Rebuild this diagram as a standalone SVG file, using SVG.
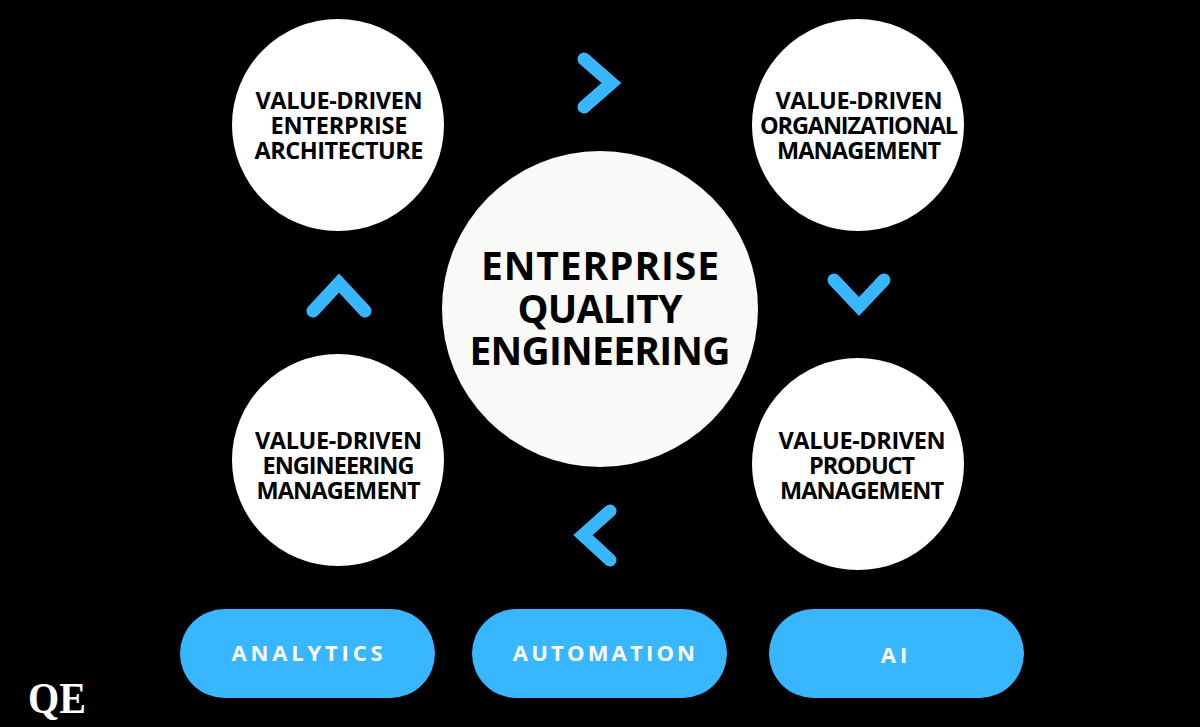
<svg xmlns="http://www.w3.org/2000/svg" width="1200" height="727" viewBox="0 0 1200 727">
<style>
.c{fill:#fff}
.m{fill:#f9f9f7}
.t{font-family:"Open Sans","Noto Sans",sans-serif;font-weight:700;fill:#000;text-anchor:middle;font-size:23.5px}
.b{font-size:39px}
.p{fill:#38b6ff}
.l{font-family:"Open Sans","Noto Sans",sans-serif;font-weight:700;fill:#fff;text-anchor:middle;font-size:22px}
.a{fill:none;stroke:#38b6ff;stroke-width:13;stroke-linecap:round;stroke-linejoin:miter}
</style>
<rect width="1200" height="727" fill="#000"/>
<g id="connectors">
<path class="a" d="M584 59L611.500 83L584 107"/>
<path class="a" d="M834 280L859 306.500L884 280"/>
<path class="a" d="M610 511L583 535L610 560"/>
<path class="a" d="M313 311L339 283L365 311"/>
</g>
<g id="node-architecture"><circle class="c" cx="338" cy="125" r="106"/>
<text class="t"><tspan x="339" y="109" textLength="167">VALUE-DRIVEN</tspan><tspan x="339" y="134" textLength="137">ENTERPRISE</tspan><tspan x="339" y="159" textLength="169">ARCHITECTURE</tspan></text></g>
<g id="node-organizational"><circle class="c" cx="858" cy="125" r="106"/>
<text class="t"><tspan x="859" y="109" textLength="167">VALUE-DRIVEN</tspan><tspan x="859" y="134" textLength="198">ORGANIZATIONAL</tspan><tspan x="859" y="159" textLength="164">MANAGEMENT</tspan></text></g>
<g id="node-center"><circle class="m" cx="600" cy="309" r="158"/>
<text class="t b"><tspan x="600" y="280" textLength="238">ENTERPRISE</tspan><tspan x="600" y="323" textLength="165">QUALITY</tspan><tspan x="600" y="365" textLength="261">ENGINEERING</tspan></text></g>
<g id="node-engineering"><circle class="c" cx="338" cy="460" r="106"/>
<text class="t"><tspan x="338.500" y="449" textLength="167">VALUE-DRIVEN</tspan><tspan x="338.500" y="474" textLength="152">ENGINEERING</tspan><tspan x="338.500" y="499" textLength="164">MANAGEMENT</tspan></text></g>
<g id="node-product"><circle class="c" cx="858" cy="464" r="106"/>
<text class="t"><tspan x="862" y="449" textLength="167">VALUE-DRIVEN</tspan><tspan x="862" y="474" textLength="106">PRODUCT</tspan><tspan x="862" y="499" textLength="164">MANAGEMENT</tspan></text></g>
<g id="pill-analytics"><rect class="p" x="180" y="609" width="255" height="89" rx="44.500"/><text class="l" x="309" y="661" letter-spacing="3.800">ANALYTICS</text></g>
<g id="pill-automation"><rect class="p" x="472" y="609" width="255" height="89" rx="44.500"/><text class="l" x="605.500" y="661" letter-spacing="3.200">AUTOMATION</text></g>
<g id="pill-ai"><rect class="p" x="769" y="609" width="255" height="89" rx="44.500"/><text class="l" x="896" y="663" letter-spacing="4">AI</text></g>
<text id="logo" x="28" y="713" font-family="'Liberation Serif',serif" font-weight="700" font-size="45" fill="#fff" textLength="58" lengthAdjust="spacingAndGlyphs">QE</text>
</svg>
